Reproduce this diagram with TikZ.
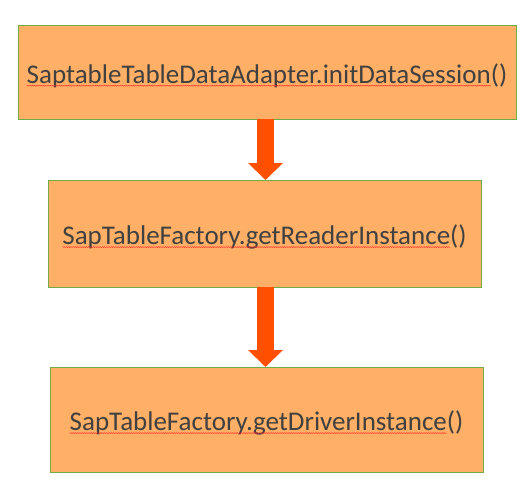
\documentclass[tikz,border=0pt]{standalone}
\usepackage{fontspec}
\setmainfont{Carlito}
\usetikzlibrary{arrows.meta,decorations.pathmorphing}
\definecolor{boxfill}{HTML}{FFB066}
\definecolor{boxline}{HTML}{70AD47}
\definecolor{arrowc}{HTML}{FF5000}
\definecolor{txt}{HTML}{404040}
\tikzset{
  box/.style={draw=boxline, line width=1pt, fill=boxfill, inner sep=0pt, outer sep=0pt},
  label/.style={inner sep=0pt, outer sep=0pt, text=txt, font=\fontsize{27}{31}\selectfont},
  squig/.style={draw=red!85!white, line width=0.35pt, decorate, decoration={snake, segment length=1.8pt, amplitude=0.5pt}},
  bigarrow/.style={draw=arrowc, line width=17pt, -{Triangle[width=34pt,length=17pt]}}
}
\begin{document}
\begin{tikzpicture}[x=1pt,y=-1pt]
\useasboundingbox (0,0) rectangle (530,485);
\node[box, minimum width=498pt, minimum height=94pt] (b1) at (267,72) {};
\node[box, minimum width=433pt, minimum height=107pt] (b2) at (264.5,233.5) {};
\node[box, minimum width=433pt, minimum height=105pt] (b3) at (266.5,419.5) {};
\coordinate (ax) at (265.5,0);
% texts
\node[label] (t1) at ([yshift=-3.5pt]b1.center) {SaptableTableDataAdapter.initDataSession\phantom{()}};
\node[label, anchor=base east] (p1) at (t1.base east) {()};
\node[label] (t2) at ([yshift=-3.5pt]b2.center) {SapTableFactory.getReaderInstance\phantom{()}};
\node[label, anchor=base east] (p2) at (t2.base east) {()};
\node[label] (t3) at ([yshift=-3.5pt]b3.center) {SapTableFactory.getDriverInstance\phantom{()}};
\node[label, anchor=base east] (p3) at (t3.base east) {()};
\draw[squig] ([yshift=-2.5pt]t1.base west) -- ([yshift=-2.5pt]p1.base west);
\draw[squig] ([yshift=-2.5pt]t2.base west) -- ([yshift=-2.5pt]p2.base west);
\draw[squig] ([yshift=-2.5pt]t3.base west) -- ([yshift=-2.5pt]p3.base west);
% arrows
\draw[bigarrow] (b1.south -| ax) -- (b2.north -| ax);
\draw[bigarrow] (b2.south -| ax) -- (b3.north -| ax);
\end{tikzpicture}
\end{document}
